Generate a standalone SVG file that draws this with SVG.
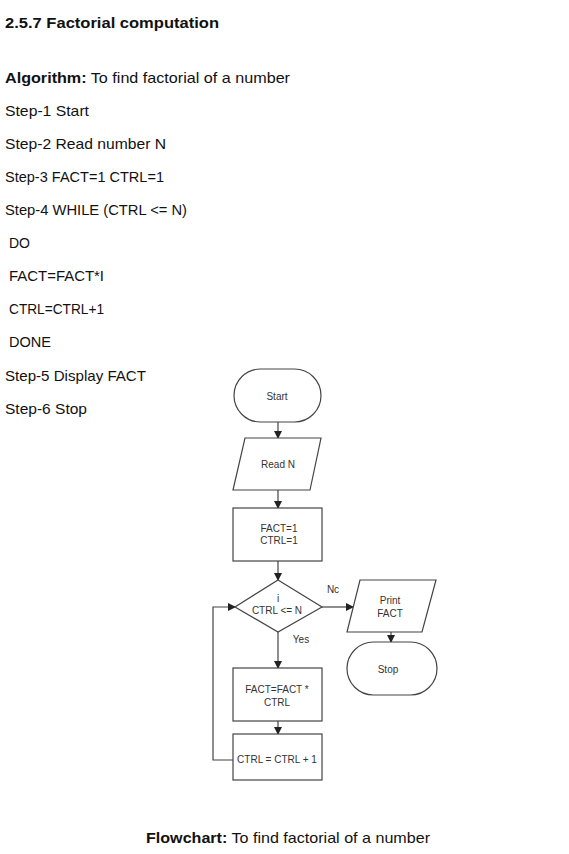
<svg xmlns="http://www.w3.org/2000/svg" width="569" height="854" viewBox="0 0 569 854">
<defs>
<marker id="ah" markerWidth="8" markerHeight="8" refX="7" refY="4" orient="auto" markerUnits="userSpaceOnUse">
<path d="M0,0 L8,4 L0,8 z" fill="#222"/>
</marker>
<style>
.t{font-family:"Liberation Sans",Arial,sans-serif;font-size:15px;fill:#111}
.b{font-weight:bold}
.n{fill:#fff;stroke:#444;stroke-width:1.2}
.l{font-family:"Liberation Sans",Arial,sans-serif;font-size:10px;fill:#333;text-anchor:middle}
.c{fill:none;stroke:#444;stroke-width:1.2}
</style>
</defs>
<rect width="569" height="854" fill="#fff"/>
<text class="t b" x="5" y="28" font-size="16" textLength="214" lengthAdjust="spacingAndGlyphs">2.5.7 Factorial computation</text>
<text class="t" x="5" y="83" textLength="285" lengthAdjust="spacingAndGlyphs"><tspan class="b">Algorithm:</tspan> To find factorial of a number</text>
<text class="t" x="5" y="116" textLength="84" lengthAdjust="spacingAndGlyphs">Step-1 Start</text>
<text class="t" x="5" y="149" textLength="161" lengthAdjust="spacingAndGlyphs">Step-2 Read number N</text>
<text class="t" x="5" y="182" textLength="159" lengthAdjust="spacingAndGlyphs">Step-3 FACT=1 CTRL=1</text>
<text class="t" x="5" y="215" textLength="182" lengthAdjust="spacingAndGlyphs">Step-4 WHILE (CTRL &lt;= N)</text>
<text class="t" x="9" y="248" textLength="21" lengthAdjust="spacingAndGlyphs">DO</text>
<text class="t" x="9" y="281" textLength="95" lengthAdjust="spacingAndGlyphs">FACT=FACT*I</text>
<text class="t" x="9" y="314" textLength="95" lengthAdjust="spacingAndGlyphs">CTRL=CTRL+1</text>
<text class="t" x="9" y="347" textLength="42" lengthAdjust="spacingAndGlyphs">DONE</text>
<text class="t" x="5" y="381" textLength="141" lengthAdjust="spacingAndGlyphs">Step-5 Display FACT</text>
<text class="t" x="5" y="414" textLength="82" lengthAdjust="spacingAndGlyphs">Step-6 Stop</text>
<text class="t" x="146" y="843" textLength="284" lengthAdjust="spacingAndGlyphs"><tspan class="b">Flowchart:</tspan> To find factorial of a number</text>

<g id="connectors">
<line class="c" x1="278" y1="422" x2="278" y2="438" marker-end="url(#ah)"/>
<line class="c" x1="278" y1="490" x2="278" y2="508" marker-end="url(#ah)"/>
<line class="c" x1="278" y1="561" x2="278" y2="580" marker-end="url(#ah)"/>
<line class="c" x1="278" y1="632" x2="278" y2="668" marker-end="url(#ah)"/>
<line class="c" x1="278" y1="721" x2="278" y2="734" marker-end="url(#ah)"/>
<line class="c" x1="322" y1="607" x2="353" y2="607" marker-end="url(#ah)"/>
<line class="c" x1="391" y1="620" x2="391" y2="642" marker-end="url(#ah)"/>
<polyline class="c" points="233,760 213,760 213,607 235,607" marker-end="url(#ah)"/>
<text class="l" x="333" y="593" font-size="9">Nc</text>
<text class="l" x="301" y="643" font-size="9.3">Yes</text>
</g>

<g id="start">
<rect class="n" x="234" y="369" width="87" height="53" rx="26.5"/>
<text class="l" x="277" y="400" font-size="10.5">Start</text>
</g>
<g id="read">
<polygon class="n" points="245,438 321,438 310,490 233,490"/>
<text class="l" x="278" y="468" font-size="9">Read N</text>
</g>
<g id="init">
<rect class="n" x="233" y="508" width="89" height="53"/>
<text class="l" x="279" y="532" font-size="11">FACT=1</text>
<text class="l" x="279" y="544" font-size="11">CTRL=1</text>
</g>
<g id="decision">
<polygon class="n" points="278,580 322,607 278,632 235,607"/>
<text class="l" x="278" y="602" font-size="7">i</text>
<text class="l" x="277" y="614" font-size="8.7">CTRL &lt;= N</text>
</g>
<g id="print">
<polygon class="n" points="360,580 436,580 422,632 347,632"/>
<text class="l" x="390" y="604">Print</text>
<text class="l" x="390" y="617">FACT</text>
</g>
<g id="stop">
<rect class="n" x="347" y="642" width="90" height="53" rx="26.5"/>
<text class="l" x="388" y="673" font-size="9.5">Stop</text>
</g>
<g id="mult">
<rect class="n" x="233" y="668" width="89" height="53"/>
<text class="l" x="277" y="693" font-size="10.4">FACT=FACT *</text>
<text class="l" x="277" y="706" font-size="10.4">CTRL</text>
</g>
<g id="incr">
<rect class="n" x="233" y="734" width="89" height="46"/>
<text class="l" x="277" y="763" font-size="10.4">CTRL = CTRL + 1</text>
</g>
</svg>
